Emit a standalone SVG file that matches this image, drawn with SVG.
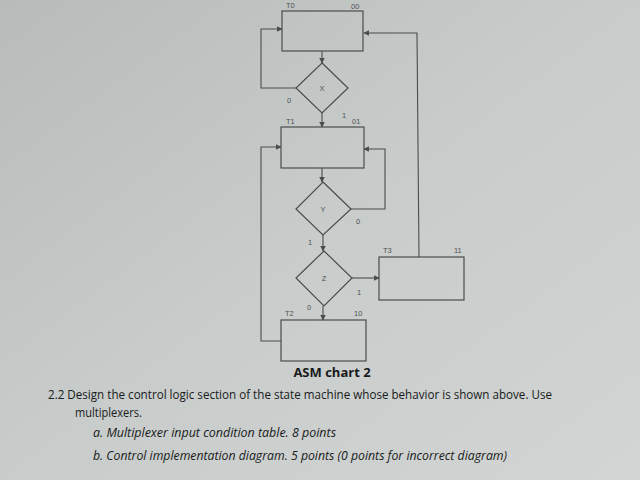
<svg xmlns="http://www.w3.org/2000/svg" width="640" height="480" viewBox="0 0 640 480">
<defs>
<linearGradient id="bg" x1="0" y1="0" x2="1" y2="1">
<stop offset="0" stop-color="#b7bcbb"/>
<stop offset="0.5" stop-color="#c8cccb"/>
<stop offset="1" stop-color="#d2d5d3"/>
</linearGradient>
<marker id="ah" viewBox="0 0 10 10" refX="9" refY="5" markerWidth="5" markerHeight="5" orient="auto">
<path d="M0,0 L10,5 L0,10 z" fill="#4a4d4d"/>
</marker>
<style>
.box{fill:none;stroke:#4a4d4d;stroke-width:1.2}
.ln{fill:none;stroke:#4a4d4d;stroke-width:1.1;marker-end:url(#ah)}
.sm{font-family:"Liberation Sans",Arial,sans-serif;font-size:7.5px;fill:#505353}
.tx{font-family:"Open Sans","Liberation Sans",sans-serif;font-size:13px;fill:#181b1b}
</style>
</defs>
<rect width="640" height="480" fill="url(#bg)"/>
<g id="connectors">
<line class="ln" x1="322" y1="51" x2="322" y2="63"/>
<polyline class="ln" points="296,88 261,88 261,29 282,29"/>
<line class="ln" x1="322" y1="113" x2="322" y2="127"/>
<line class="ln" x1="322" y1="168" x2="322" y2="182"/>
<polyline class="ln" points="351,209 385,209 385,149 364,149"/>
<line class="ln" x1="323" y1="235" x2="323" y2="251"/>
<line class="ln" x1="352" y1="278" x2="379" y2="278"/>
<line class="ln" x1="323" y1="306" x2="323" y2="320"/>
<polyline class="ln" points="281,341 261,341 261,147 281,147"/>
<polyline class="ln" points="419,257 417,33 364,33"/>
</g>
<g id="T0">
<rect class="box" x="282" y="11" width="81" height="40"/>
<text class="sm" x="286" y="8">T0</text>
<text class="sm" x="351" y="9">00</text>
</g>
<g id="X">
<polygon class="box" points="322,63 348,88 322,113 296,88"/>
<text class="sm" x="322" y="91" text-anchor="middle">X</text>
<text class="sm" x="287" y="103">0</text>
<text class="sm" x="342" y="118">1</text>
</g>
<g id="T1">
<rect class="box" x="281" y="127" width="83" height="41"/>
<text class="sm" x="286" y="124">T1</text>
<text class="sm" x="352" y="124">01</text>
</g>
<g id="Y">
<polygon class="box" points="323,182 351,209 323,235 296,209"/>
<text class="sm" x="323" y="212" text-anchor="middle">Y</text>
<text class="sm" x="356" y="224">0</text>
<text class="sm" x="308" y="245">1</text>
</g>
<g id="Z">
<polygon class="box" points="324,251 352,278 324,306 296,278"/>
<text class="sm" x="324" y="281" text-anchor="middle">Z</text>
<text class="sm" x="357" y="295">1</text>
<text class="sm" x="307" y="310">0</text>
</g>
<g id="T2">
<rect class="box" x="281" y="320" width="85" height="41"/>
<text class="sm" x="285" y="316">T2</text>
<text class="sm" x="354" y="316">10</text>
</g>
<g id="T3">
<rect class="box" x="379" y="257" width="85" height="43"/>
<text class="sm" x="383" y="253">T3</text>
<text class="sm" x="454" y="253">11</text>
</g>
<g id="caption">
<text class="tx" x="332" y="377" text-anchor="middle" font-weight="bold">ASM chart 2</text>
<text class="tx" x="48" y="399" textLength="504" lengthAdjust="spacingAndGlyphs">2.2 Design the control logic section of the state machine whose behavior is shown above. Use</text>
<text class="tx" x="75" y="417" textLength="67" lengthAdjust="spacingAndGlyphs">multiplexers.</text>
<text class="tx" x="93" y="437" font-style="italic" textLength="243" lengthAdjust="spacingAndGlyphs">a. Multiplexer input condition table. 8 points</text>
<text class="tx" x="93" y="460" font-style="italic" textLength="414" lengthAdjust="spacingAndGlyphs">b. Control implementation diagram. 5 points (0 points for incorrect diagram)</text>
</g>
</svg>
